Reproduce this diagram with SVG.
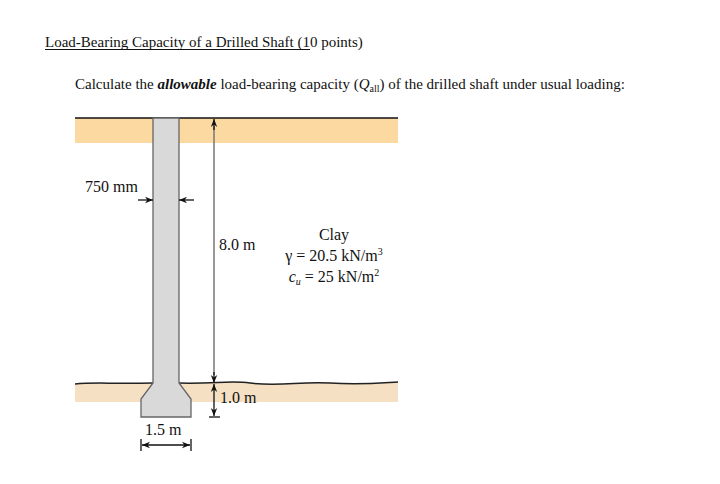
<svg xmlns="http://www.w3.org/2000/svg" width="720" height="484" viewBox="0 0 720 484">
<defs>
<marker id="ah" viewBox="0 0 10 10" refX="10" refY="5" markerWidth="8" markerHeight="8" orient="auto-start-reverse" markerUnits="userSpaceOnUse"><path d="M0,1 L10,5 L0,9 L3,5 z" fill="#111"/></marker>
</defs>
<style>
text{font-family:"Liberation Serif",serif;fill:#111}
.t{font-size:15px}
.d{font-size:16px}
.dim{stroke:#777;stroke-width:1.5;fill:none}
.arr{stroke:#111;stroke-width:1.3;fill:none}
</style>
<rect width="720" height="484" fill="#fff"/>
<text class="t" x="45" y="47">Load-Bearing Capacity of a Drilled Shaft <tspan>(10 points)</tspan></text>
<line x1="45" y1="49.5" x2="310" y2="49.5" stroke="#111" stroke-width="1"/>
<text class="t" x="75" y="89">Calculate the <tspan font-weight="bold" font-style="italic">allowable</tspan> load-bearing capacity (<tspan font-style="italic">Q</tspan><tspan font-size="10" dy="3">all</tspan><tspan dy="-3">) of the drilled shaft under usual loading:</tspan></text>
<g id="soil">
<rect x="75" y="118" width="323" height="25" fill="#fcd9a0"/>
<line x1="75" y1="118" x2="398" y2="118" stroke="#111" stroke-width="1.5"/>
<path d="M75,384 C95,382 110,384 153,383 L191,383 C215,384 230,380 250,383 C280,387 300,381 330,383 C360,385 380,383 398,382 L398,402 L75,402 Z" fill="#f5e0c4"/>
<path d="M75,384 C95,382 110,384 153,383 M179,383 C215,384 230,380 250,383 C280,387 300,381 330,383 C360,385 380,383 398,382" stroke="#222" stroke-width="1.5" fill="none"/>
</g>
<g id="shaft">
<path d="M153,118 L179,118 L179,383 L191,399 L191,417 L141,417 L141,399 L153,383 Z" fill="#d9d9d9" stroke="#666" stroke-width="1.3"/>
</g>
<g id="connectors">
<line class="dim" x1="214" y1="126" x2="214" y2="375"/>
<line class="arr" x1="214" y1="130" x2="214" y2="119" marker-end="url(#ah)"/>
<line class="arr" x1="214" y1="372" x2="214" y2="383" marker-end="url(#ah)"/>
<line class="arr" x1="214" y1="384" x2="214" y2="416" marker-start="url(#ah)" marker-end="url(#ah)"/>
<line x1="209" y1="417" x2="220" y2="417" stroke="#111" stroke-width="1.3"/>
<line class="arr" x1="138" y1="200" x2="153" y2="200" marker-end="url(#ah)"/>
<line class="arr" x1="194" y1="200" x2="179" y2="200" marker-end="url(#ah)"/>
<line class="arr" x1="142" y1="445" x2="190" y2="445" marker-start="url(#ah)" marker-end="url(#ah)"/>
<line x1="141" y1="439" x2="141" y2="451" stroke="#111" stroke-width="1.3"/>
<line x1="191" y1="439" x2="191" y2="451" stroke="#111" stroke-width="1.3"/>
</g>
<g id="labels">
<text class="d" x="85" y="192">750 mm</text>
<text class="d" x="219" y="250">8.0 m</text>
<text class="d" x="334" y="240" text-anchor="middle">Clay</text>
<text class="d" x="334" y="261" text-anchor="middle">γ = 20.5 kN/m<tspan font-size="10" dy="-6">3</tspan></text>
<text class="d" x="334" y="282" text-anchor="middle"><tspan font-style="italic">c</tspan><tspan font-style="italic" font-size="10" dy="3">u</tspan><tspan dy="-3"> = 25 kN/m</tspan><tspan font-size="10" dy="-6">2</tspan></text>
<text class="d" x="220" y="403">1.0 m</text>
<text class="d" x="145" y="435">1.5 m</text>
</g>
</svg>
